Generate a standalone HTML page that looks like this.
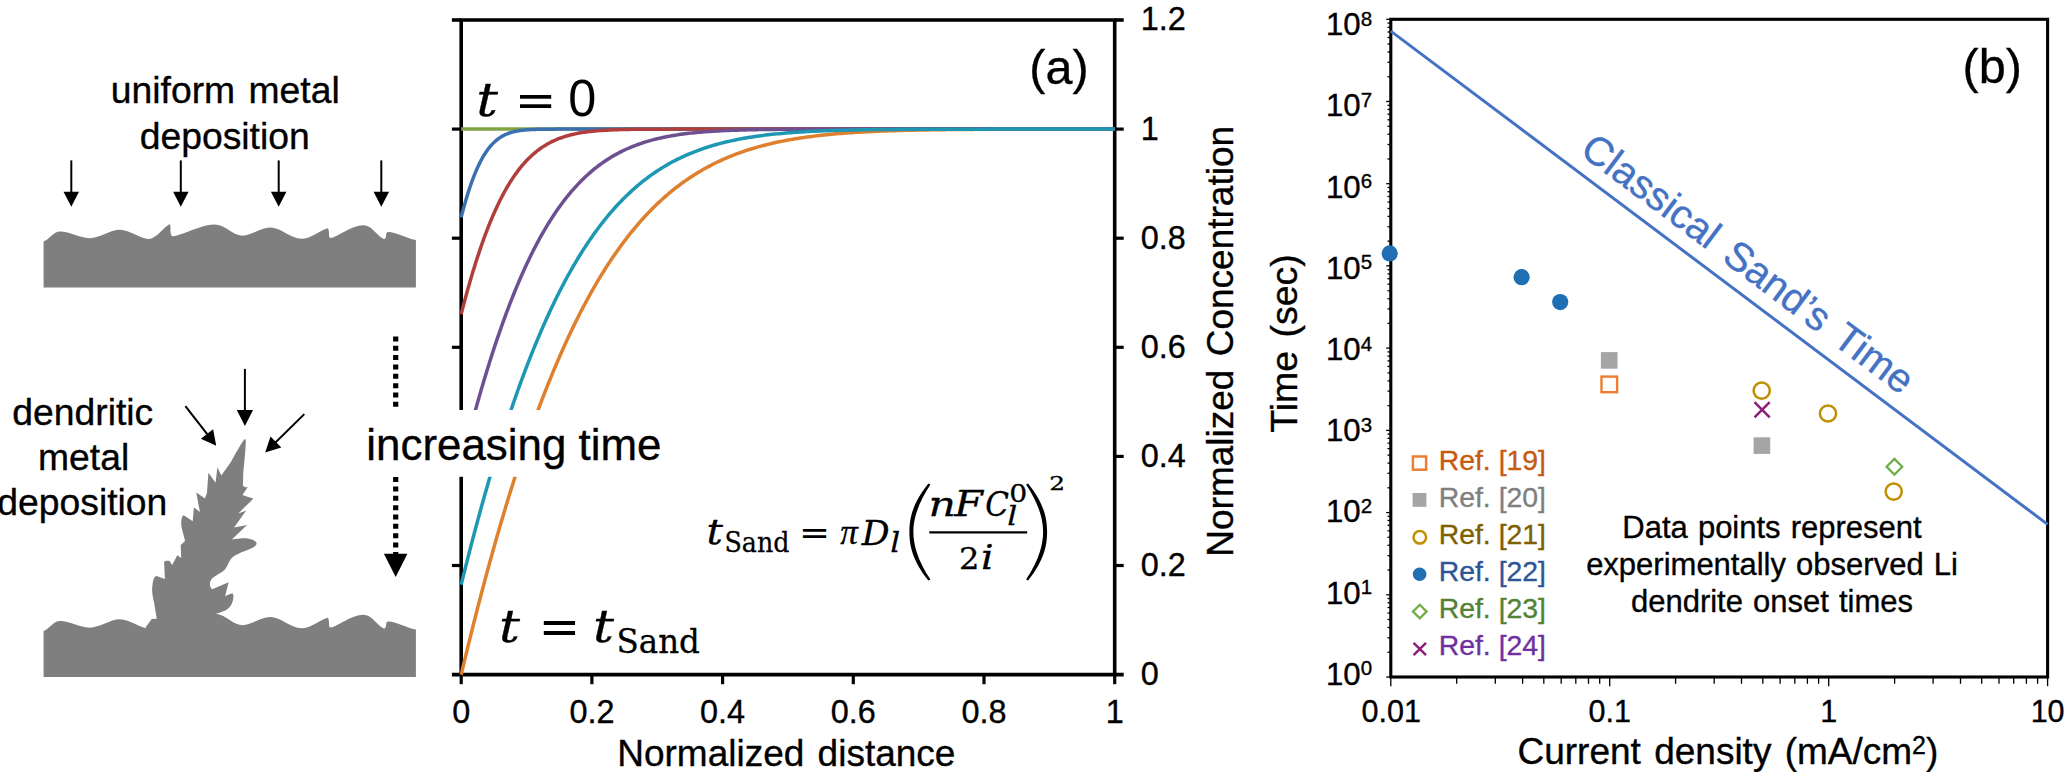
<!DOCTYPE html>
<html lang="en"><head><meta charset="utf-8"><title>Sand's time figure</title>
<style>
html,body{margin:0;padding:0;background:#fff;}
body{width:2070px;height:772px;overflow:hidden;}
svg{display:block;}
text{font-family:'Liberation Sans', Arial, Helvetica, sans-serif;color:#000;fill:currentColor;stroke:currentColor;stroke-width:.35px;}
.tk{font-size:32.4px;}
.tkb{font-size:30.5px;}
.lbl{font-size:37px;word-spacing:3px;}
.sch{font-size:37.3px;text-anchor:middle;word-spacing:3px;}
.leg{font-size:28.4px;}
.note{font-size:31px;text-anchor:middle;word-spacing:1.5px;}
.mi{font-family:'Liberation Serif', 'DejaVu Serif', serif;font-style:italic;}
.mr{font-family:'DejaVu Serif', 'Liberation Serif', serif;}
</style></head><body>
<svg width="2070" height="772" viewBox="0 0 2070 772">
<rect x="0" y="0" width="2070" height="772" fill="#ffffff"/>
<g fill="#7f7f7f" stroke="none">
<path d="M43.6 287.5 L43.6 241.5 C49 240 53 231.6 60.3 231.6 C69 231.6 80 238.2 89.5 238.2 C100 238.2 110 229.8 119.8 229.8 C130 229.8 140 238.9 148.9 238.9 C156 238.9 163 228 169.3 224.3 C171.5 223.5 169.5 233 171.7 235.9 C176 238.5 200 224.6 214.2 224.6 C226 224.6 232 235.7 242.2 235.7 C252 235.7 260 227.5 270.1 227.5 C281 227.5 291 238.8 301.6 238.8 C310 238.8 319 231 326.7 228.4 C330 227.6 328.4 236 329.6 237.6 C333 240.5 350 225.2 363.4 225.2 C372 225.2 378 237 383.8 238.9 C387 239.5 385.4 232.8 387.2 232.2 C392 230.5 405 237.5 415.9 240.1 L415.9 287.5 Z"/>
<path d="M43.6 287.5 L43.6 241.5 C49 240 53 231.6 60.3 231.6 C69 231.6 80 238.2 89.5 238.2 C100 238.2 110 229.8 119.8 229.8 C130 229.8 140 238.9 148.9 238.9 C156 238.9 163 228 169.3 224.3 C171.5 223.5 169.5 233 171.7 235.9 C176 238.5 200 224.6 214.2 224.6 C226 224.6 232 235.7 242.2 235.7 C252 235.7 260 227.5 270.1 227.5 C281 227.5 291 238.8 301.6 238.8 C310 238.8 319 231 326.7 228.4 C330 227.6 328.4 236 329.6 237.6 C333 240.5 350 225.2 363.4 225.2 C372 225.2 378 237 383.8 238.9 C387 239.5 385.4 232.8 387.2 232.2 C392 230.5 405 237.5 415.9 240.1 L415.9 287.5 Z" transform="translate(0,389.5)"/>
<path d="M145.9 627 L151.7 618.9 L156.8 618.7 C155.6 612 154.8 607.1 154.2 603 C152.4 596 151.6 590 152.4 586 C153 580 154 576.5 156.6 576 L164.9 579 L164.1 562 C164.5 560.6 168.5 560.4 169.5 561 L172.2 565.1 L177.3 555.3 L181.2 558.1 L180.7 545 L185.1 541 C183.5 534 181 528 181.2 523 C181.3 519 182.3 515.5 183.7 515.2 L192.7 521.2 L193.9 507.4 L199.9 512 L196.3 492.4 L204.9 498.4 L207 492.7 L208.4 472.8 L215.6 482.7 L217.4 467.3 L221.3 475.6 L231.2 461.4 C236 453 241 444 244.2 439.6 C245.2 438.6 245.9 439.6 245.8 441 C245.6 451 244 465 243.3 472.8 L242.9 485.6 C244.5 487.5 246 487.6 247.8 487 L242.4 494.9 C246 496.5 250.5 497.2 253.3 498.5 C249.5 503 243 508.5 238.4 513.4 L246.2 510.5 L234.1 527.6 L247.1 525 L231.8 539.6 C238 538.8 244 537.8 248.8 538.7 C253 539.5 256.6 541.5 256.6 543.3 C256.6 545.8 253 548 248.8 549.5 C242 552 235.5 554.5 231.7 558.1 C228.8 561.5 227.5 566.5 224.7 569.8 C221.5 573 216.5 575 213.1 577.5 C210.5 579.5 209.6 583 210 585.3 C210.4 587.5 211.5 588.8 212.3 589.2 L228.6 582.2 L225.1 596.2 C228 595 231 593.2 232.6 593.6 C234 594.5 233.6 600 231.7 604 C230 607.5 227 609.8 224 611 C221 612.3 218 613.3 215.4 614.1 C222 614.5 227 618.5 232 622 L232 640 L145.9 640 Z"/>
</g>
<line x1="71.3" y1="160.4" x2="71.3" y2="192.7" stroke="#000" stroke-width="2.0"/><polygon points="71.3,206.7 63.5,191.7 79.0,191.7" fill="#000"/>
<line x1="180.8" y1="160.4" x2="180.8" y2="192.7" stroke="#000" stroke-width="2.0"/><polygon points="180.8,206.7 173.1,191.7 188.6,191.7" fill="#000"/>
<line x1="278.7" y1="160.4" x2="278.7" y2="192.7" stroke="#000" stroke-width="2.0"/><polygon points="278.7,206.7 270.9,191.7 286.4,191.7" fill="#000"/>
<line x1="381.3" y1="160.4" x2="381.3" y2="192.7" stroke="#000" stroke-width="2.0"/><polygon points="381.3,206.7 373.6,191.7 389.1,191.7" fill="#000"/>
<line x1="244.9" y1="368.9" x2="244.9" y2="411.0" stroke="#000" stroke-width="2.0"/><polygon points="244.9,426.0 236.8,410.0 253.1,410.0" fill="#000"/>
<line x1="185.4" y1="406.2" x2="207.6" y2="434.7" stroke="#000" stroke-width="2.0"/><polygon points="216.2,445.8 200.9,438.7 213.1,429.2" fill="#000"/>
<line x1="304.3" y1="414.1" x2="275.2" y2="442.8" stroke="#000" stroke-width="2.0"/><polygon points="265.2,452.6 270.5,436.6 281.3,447.6" fill="#000"/>
<text class="sch" x="225.3" y="102.6">uniform metal</text>
<text class="sch" x="224.7" y="148.6">deposition</text>
<text class="sch" x="82.8" y="424.8">dendritic</text>
<text class="sch" x="83.6" y="470">metal</text>
<text class="sch" x="82.3" y="515.2">deposition</text>
<g stroke="#000" stroke-width="3.6" fill="none">
<path d="M461.2 674.6 L461.2 20.0 L1114.7 20.0 L1114.7 674.6"/>
<line x1="451.9" y1="674.6" x2="1123.7" y2="674.6"/>
<line x1="451.9" y1="20.0" x2="461.2" y2="20.0"/>
<line x1="1114.7" y1="20.0" x2="1123.7" y2="20.0"/>
</g>
<g stroke="#000" stroke-width="3.2">
<line x1="451.9" y1="565.5" x2="461.2" y2="565.5"/>
<line x1="1114.7" y1="565.5" x2="1123.7" y2="565.5"/>
<line x1="451.9" y1="456.4" x2="461.2" y2="456.4"/>
<line x1="1114.7" y1="456.4" x2="1123.7" y2="456.4"/>
<line x1="451.9" y1="347.3" x2="461.2" y2="347.3"/>
<line x1="1114.7" y1="347.3" x2="1123.7" y2="347.3"/>
<line x1="451.9" y1="238.2" x2="461.2" y2="238.2"/>
<line x1="1114.7" y1="238.2" x2="1123.7" y2="238.2"/>
<line x1="451.9" y1="129.1" x2="461.2" y2="129.1"/>
<line x1="1114.7" y1="129.1" x2="1123.7" y2="129.1"/>
<line x1="461.2" y1="674.6" x2="461.2" y2="684.2"/>
<line x1="591.9" y1="674.6" x2="591.9" y2="684.2"/>
<line x1="722.6" y1="674.6" x2="722.6" y2="684.2"/>
<line x1="853.3" y1="674.6" x2="853.3" y2="684.2"/>
<line x1="984.0" y1="674.6" x2="984.0" y2="684.2"/>
<line x1="1114.7" y1="674.6" x2="1114.7" y2="684.2"/>
</g>
<g fill="none" stroke-width="3.5" stroke-linecap="butt" stroke-linejoin="round">
<path d="M461.20 129.10 L461.20 129.10 L461.22 129.10 L461.24 129.10 L461.27 129.10 L461.30 129.10 L461.35 129.10 L461.40 129.10 L461.46 129.10 L461.53 129.10 L461.61 129.10 L461.69 129.10 L461.79 129.10 L461.89 129.10 L462.00 129.10 L462.12 129.10 L462.25 129.10 L462.38 129.10 L462.52 129.10 L462.67 129.10 L462.83 129.10 L463.00 129.10 L463.18 129.10 L463.36 129.10 L463.55 129.10 L463.75 129.10 L463.96 129.10 L464.18 129.10 L464.40 129.10 L464.63 129.10 L464.88 129.10 L465.13 129.10 L465.38 129.10 L465.65 129.10 L465.92 129.10 L466.20 129.10 L466.49 129.10 L466.79 129.10 L467.10 129.10 L467.41 129.10 L467.74 129.10 L468.07 129.10 L468.40 129.10 L468.75 129.10 L469.11 129.10 L469.47 129.10 L469.84 129.10 L470.22 129.10 L470.61 129.10 L471.01 129.10 L471.41 129.10 L471.82 129.10 L472.24 129.10 L472.67 129.10 L473.11 129.10 L473.56 129.10 L474.01 129.10 L474.47 129.10 L474.94 129.10 L475.42 129.10 L475.90 129.10 L476.40 129.10 L476.90 129.10 L477.41 129.10 L477.93 129.10 L478.46 129.10 L478.99 129.10 L479.53 129.10 L480.09 129.10 L480.65 129.10 L481.21 129.10 L481.79 129.10 L482.37 129.10 L482.97 129.10 L483.57 129.10 L484.17 129.10 L484.79 129.10 L485.42 129.10 L486.05 129.10 L486.69 129.10 L487.34 129.10 L488.00 129.10 L488.66 129.10 L489.34 129.10 L490.02 129.10 L490.71 129.10 L491.41 129.10 L492.11 129.10 L492.83 129.10 L493.55 129.10 L494.28 129.10 L495.02 129.10 L495.77 129.10 L496.53 129.10 L497.29 129.10 L498.06 129.10 L498.84 129.10 L499.63 129.10 L500.43 129.10 L501.23 129.10 L502.04 129.10 L502.86 129.10 L503.69 129.10 L504.53 129.10 L505.38 129.10 L506.23 129.10 L507.09 129.10 L507.96 129.10 L508.84 129.10 L509.73 129.10 L510.62 129.10 L511.52 129.10 L512.43 129.10 L513.35 129.10 L514.28 129.10 L515.22 129.10 L516.16 129.10 L517.11 129.10 L518.07 129.10 L519.04 129.10 L520.01 129.10 L521.00 129.10 L521.99 129.10 L522.99 129.10 L524.00 129.10 L525.02 129.10 L526.04 129.10 L527.08 129.10 L528.12 129.10 L529.17 129.10 L530.23 129.10 L531.29 129.10 L532.37 129.10 L533.45 129.10 L534.54 129.10 L535.64 129.10 L536.74 129.10 L537.86 129.10 L538.98 129.10 L540.11 129.10 L541.25 129.10 L542.40 129.10 L543.56 129.10 L544.72 129.10 L545.89 129.10 L547.07 129.10 L548.26 129.10 L549.46 129.10 L550.66 129.10 L551.88 129.10 L553.10 129.10 L554.33 129.10 L555.57 129.10 L556.81 129.10 L558.07 129.10 L559.33 129.10 L560.60 129.10 L561.88 129.10 L563.16 129.10 L564.46 129.10 L565.76 129.10 L567.07 129.10 L568.39 129.10 L569.72 129.10 L571.05 129.10 L572.40 129.10 L573.75 129.10 L575.11 129.10 L576.48 129.10 L577.85 129.10 L579.24 129.10 L580.63 129.10 L582.03 129.10 L583.44 129.10 L584.86 129.10 L586.28 129.10 L587.72 129.10 L589.16 129.10 L590.61 129.10 L592.07 129.10 L593.53 129.10 L595.01 129.10 L596.49 129.10 L597.98 129.10 L599.48 129.10 L600.99 129.10 L602.50 129.10 L604.03 129.10 L605.56 129.10 L607.10 129.10 L608.65 129.10 L610.20 129.10 L611.77 129.10 L613.34 129.10 L614.92 129.10 L616.51 129.10 L618.11 129.10 L619.71 129.10 L621.32 129.10 L622.95 129.10 L624.58 129.10 L626.21 129.10 L627.86 129.10 L629.51 129.10 L631.18 129.10 L632.85 129.10 L634.52 129.10 L636.21 129.10 L637.91 129.10 L639.61 129.10 L641.32 129.10 L643.04 129.10 L644.77 129.10 L646.50 129.10 L648.25 129.10 L650.00 129.10 L651.76 129.10 L653.53 129.10 L655.31 129.10 L657.09 129.10 L658.88 129.10 L660.68 129.10 L662.49 129.10 L664.31 129.10 L666.14 129.10 L667.97 129.10 L669.81 129.10 L671.66 129.10 L673.52 129.10 L675.39 129.10 L677.26 129.10 L679.15 129.10 L681.04 129.10 L682.94 129.10 L684.84 129.10 L686.76 129.10 L688.68 129.10 L690.62 129.10 L692.56 129.10 L694.50 129.10 L696.46 129.10 L698.42 129.10 L700.40 129.10 L702.38 129.10 L704.37 129.10 L706.36 129.10 L708.37 129.10 L710.38 129.10 L712.41 129.10 L714.44 129.10 L716.47 129.10 L718.52 129.10 L720.57 129.10 L722.64 129.10 L724.71 129.10 L726.79 129.10 L728.87 129.10 L730.97 129.10 L733.07 129.10 L735.18 129.10 L737.30 129.10 L739.43 129.10 L741.57 129.10 L743.71 129.10 L745.86 129.10 L748.03 129.10 L750.19 129.10 L752.37 129.10 L754.56 129.10 L756.75 129.10 L758.95 129.10 L761.16 129.10 L763.38 129.10 L765.60 129.10 L767.84 129.10 L770.08 129.10 L772.33 129.10 L774.59 129.10 L776.86 129.10 L779.13 129.10 L781.41 129.10 L783.71 129.10 L786.01 129.10 L788.31 129.10 L790.63 129.10 L792.95 129.10 L795.29 129.10 L797.63 129.10 L799.97 129.10 L802.33 129.10 L804.70 129.10 L807.07 129.10 L809.45 129.10 L811.84 129.10 L814.24 129.10 L816.64 129.10 L819.06 129.10 L821.48 129.10 L823.91 129.10 L826.35 129.10 L828.79 129.10 L831.25 129.10 L833.71 129.10 L836.18 129.10 L838.66 129.10 L841.15 129.10 L843.64 129.10 L846.15 129.10 L848.66 129.10 L851.18 129.10 L853.71 129.10 L856.24 129.10 L858.79 129.10 L861.34 129.10 L863.90 129.10 L866.47 129.10 L869.05 129.10 L871.63 129.10 L874.23 129.10 L876.83 129.10 L879.44 129.10 L882.06 129.10 L884.68 129.10 L887.32 129.10 L889.96 129.10 L892.61 129.10 L895.27 129.10 L897.94 129.10 L900.61 129.10 L903.30 129.10 L905.99 129.10 L908.69 129.10 L911.40 129.10 L914.11 129.10 L916.84 129.10 L919.57 129.10 L922.31 129.10 L925.06 129.10 L927.82 129.10 L930.58 129.10 L933.35 129.10 L936.14 129.10 L938.92 129.10 L941.72 129.10 L944.53 129.10 L947.34 129.10 L950.17 129.10 L953.00 129.10 L955.83 129.10 L958.68 129.10 L961.54 129.10 L964.40 129.10 L967.27 129.10 L970.15 129.10 L973.04 129.10 L975.93 129.10 L978.84 129.10 L981.75 129.10 L984.67 129.10 L987.60 129.10 L990.54 129.10 L993.48 129.10 L996.43 129.10 L999.39 129.10 L1002.36 129.10 L1005.34 129.10 L1008.33 129.10 L1011.32 129.10 L1014.32 129.10 L1017.33 129.10 L1020.35 129.10 L1023.38 129.10 L1026.41 129.10 L1029.46 129.10 L1032.51 129.10 L1035.57 129.10 L1038.63 129.10 L1041.71 129.10 L1044.79 129.10 L1047.88 129.10 L1050.98 129.10 L1054.09 129.10 L1057.21 129.10 L1060.33 129.10 L1063.47 129.10 L1066.61 129.10 L1069.76 129.10 L1072.91 129.10 L1076.08 129.10 L1079.25 129.10 L1082.43 129.10 L1085.62 129.10 L1088.82 129.10 L1092.03 129.10 L1095.24 129.10 L1098.46 129.10 L1101.70 129.10 L1104.93 129.10 L1108.18 129.10 L1111.44 129.10 L1114.70 129.10" stroke="#82a344"/>
<path d="M461.20 674.60 L461.20 674.58 L461.22 674.53 L461.24 674.44 L461.27 674.32 L461.30 674.17 L461.35 673.98 L461.40 673.75 L461.46 673.50 L461.53 673.20 L461.61 672.88 L461.69 672.51 L461.79 672.12 L461.89 671.69 L462.00 671.22 L462.12 670.72 L462.25 670.19 L462.38 669.62 L462.52 669.02 L462.67 668.39 L462.83 667.72 L463.00 667.02 L463.18 666.28 L463.36 665.52 L463.55 664.71 L463.75 663.88 L463.96 663.01 L464.18 662.11 L464.40 661.17 L464.63 660.20 L464.88 659.20 L465.13 658.17 L465.38 657.10 L465.65 656.00 L465.92 654.87 L466.20 653.71 L466.49 652.52 L466.79 651.29 L467.10 650.03 L467.41 648.74 L467.74 647.42 L468.07 646.07 L468.40 644.68 L468.75 643.27 L469.11 641.83 L469.47 640.35 L469.84 638.84 L470.22 637.31 L470.61 635.74 L471.01 634.15 L471.41 632.52 L471.82 630.87 L472.24 629.19 L472.67 627.47 L473.11 625.73 L473.56 623.96 L474.01 622.16 L474.47 620.34 L474.94 618.49 L475.42 616.60 L475.90 614.70 L476.40 612.76 L476.90 610.80 L477.41 608.81 L477.93 606.80 L478.46 604.75 L478.99 602.69 L479.53 600.60 L480.09 598.48 L480.65 596.34 L481.21 594.17 L481.79 591.98 L482.37 589.76 L482.97 587.52 L483.57 585.26 L484.17 582.98 L484.79 580.67 L485.42 578.34 L486.05 575.98 L486.69 573.61 L487.34 571.21 L488.00 568.79 L488.66 566.35 L489.34 563.89 L490.02 561.41 L490.71 558.91 L491.41 556.39 L492.11 553.85 L492.83 551.29 L493.55 548.72 L494.28 546.12 L495.02 543.51 L495.77 540.88 L496.53 538.23 L497.29 535.57 L498.06 532.89 L498.84 530.19 L499.63 527.48 L500.43 524.75 L501.23 522.00 L502.04 519.25 L502.86 516.48 L503.69 513.69 L504.53 510.89 L505.38 508.08 L506.23 505.25 L507.09 502.42 L507.96 499.57 L508.84 496.71 L509.73 493.84 L510.62 490.96 L511.52 488.07 L512.43 485.16 L513.35 482.25 L514.28 479.33 L515.22 476.41 L516.16 473.47 L517.11 470.53 L518.07 467.58 L519.04 464.62 L520.01 461.65 L521.00 458.68 L521.99 455.71 L522.99 452.73 L524.00 449.74 L525.02 446.75 L526.04 443.76 L527.08 440.76 L528.12 437.76 L529.17 434.76 L530.23 431.75 L531.29 428.75 L532.37 425.74 L533.45 422.73 L534.54 419.72 L535.64 416.71 L536.74 413.70 L537.86 410.70 L538.98 407.69 L540.11 404.69 L541.25 401.69 L542.40 398.69 L543.56 395.69 L544.72 392.70 L545.89 389.71 L547.07 386.73 L548.26 383.75 L549.46 380.78 L550.66 377.81 L551.88 374.85 L553.10 371.89 L554.33 368.94 L555.57 366.00 L556.81 363.07 L558.07 360.14 L559.33 357.23 L560.60 354.32 L561.88 351.42 L563.16 348.53 L564.46 345.66 L565.76 342.79 L567.07 339.93 L568.39 337.09 L569.72 334.25 L571.05 331.43 L572.40 328.63 L573.75 325.83 L575.11 323.05 L576.48 320.28 L577.85 317.53 L579.24 314.79 L580.63 312.06 L582.03 309.35 L583.44 306.66 L584.86 303.98 L586.28 301.31 L587.72 298.67 L589.16 296.04 L590.61 293.43 L592.07 290.83 L593.53 288.25 L595.01 285.69 L596.49 283.15 L597.98 280.63 L599.48 278.13 L600.99 275.64 L602.50 273.18 L604.03 270.73 L605.56 268.31 L607.10 265.90 L608.65 263.52 L610.20 261.15 L611.77 258.81 L613.34 256.49 L614.92 254.18 L616.51 251.90 L618.11 249.65 L619.71 247.41 L621.32 245.20 L622.95 243.01 L624.58 240.84 L626.21 238.69 L627.86 236.57 L629.51 234.47 L631.18 232.39 L632.85 230.33 L634.52 228.30 L636.21 226.30 L637.91 224.31 L639.61 222.35 L641.32 220.42 L643.04 218.50 L644.77 216.61 L646.50 214.75 L648.25 212.91 L650.00 211.09 L651.76 209.30 L653.53 207.53 L655.31 205.79 L657.09 204.07 L658.88 202.37 L660.68 200.70 L662.49 199.05 L664.31 197.43 L666.14 195.83 L667.97 194.26 L669.81 192.71 L671.66 191.18 L673.52 189.68 L675.39 188.20 L677.26 186.75 L679.15 185.32 L681.04 183.91 L682.94 182.53 L684.84 181.17 L686.76 179.83 L688.68 178.52 L690.62 177.23 L692.56 175.97 L694.50 174.72 L696.46 173.51 L698.42 172.31 L700.40 171.13 L702.38 169.98 L704.37 168.85 L706.36 167.75 L708.37 166.66 L710.38 165.60 L712.41 164.56 L714.44 163.54 L716.47 162.54 L718.52 161.56 L720.57 160.60 L722.64 159.67 L724.71 158.75 L726.79 157.86 L728.87 156.98 L730.97 156.12 L733.07 155.29 L735.18 154.47 L737.30 153.67 L739.43 152.89 L741.57 152.13 L743.71 151.39 L745.86 150.67 L748.03 149.96 L750.19 149.27 L752.37 148.60 L754.56 147.95 L756.75 147.31 L758.95 146.69 L761.16 146.09 L763.38 145.50 L765.60 144.93 L767.84 144.37 L770.08 143.83 L772.33 143.31 L774.59 142.80 L776.86 142.30 L779.13 141.82 L781.41 141.35 L783.71 140.90 L786.01 140.45 L788.31 140.03 L790.63 139.61 L792.95 139.21 L795.29 138.82 L797.63 138.44 L799.97 138.08 L802.33 137.72 L804.70 137.38 L807.07 137.05 L809.45 136.73 L811.84 136.42 L814.24 136.12 L816.64 135.83 L819.06 135.55 L821.48 135.28 L823.91 135.01 L826.35 134.76 L828.79 134.52 L831.25 134.29 L833.71 134.06 L836.18 133.84 L838.66 133.63 L841.15 133.43 L843.64 133.24 L846.15 133.05 L848.66 132.87 L851.18 132.70 L853.71 132.53 L856.24 132.37 L858.79 132.22 L861.34 132.07 L863.90 131.93 L866.47 131.79 L869.05 131.66 L871.63 131.54 L874.23 131.42 L876.83 131.30 L879.44 131.19 L882.06 131.09 L884.68 130.99 L887.32 130.89 L889.96 130.80 L892.61 130.71 L895.27 130.63 L897.94 130.55 L900.61 130.47 L903.30 130.40 L905.99 130.33 L908.69 130.26 L911.40 130.20 L914.11 130.14 L916.84 130.08 L919.57 130.03 L922.31 129.98 L925.06 129.93 L927.82 129.88 L930.58 129.84 L933.35 129.79 L936.14 129.75 L938.92 129.71 L941.72 129.68 L944.53 129.64 L947.34 129.61 L950.17 129.58 L953.00 129.55 L955.83 129.52 L958.68 129.50 L961.54 129.47 L964.40 129.45 L967.27 129.43 L970.15 129.41 L973.04 129.39 L975.93 129.37 L978.84 129.35 L981.75 129.34 L984.67 129.32 L987.60 129.31 L990.54 129.29 L993.48 129.28 L996.43 129.27 L999.39 129.26 L1002.36 129.25 L1005.34 129.24 L1008.33 129.23 L1011.32 129.22 L1014.32 129.21 L1017.33 129.20 L1020.35 129.19 L1023.38 129.19 L1026.41 129.18 L1029.46 129.18 L1032.51 129.17 L1035.57 129.17 L1038.63 129.16 L1041.71 129.16 L1044.79 129.15 L1047.88 129.15 L1050.98 129.14 L1054.09 129.14 L1057.21 129.14 L1060.33 129.13 L1063.47 129.13 L1066.61 129.13 L1069.76 129.13 L1072.91 129.13 L1076.08 129.12 L1079.25 129.12 L1082.43 129.12 L1085.62 129.12 L1088.82 129.12 L1092.03 129.12 L1095.24 129.11 L1098.46 129.11 L1101.70 129.11 L1104.93 129.11 L1108.18 129.11 L1111.44 129.11 L1114.70 129.11" stroke="#de802e"/>
<path d="M461.20 217.20 L461.20 217.18 L461.22 217.13 L461.24 217.05 L461.27 216.94 L461.30 216.80 L461.35 216.62 L461.40 216.42 L461.46 216.18 L461.53 215.91 L461.61 215.61 L461.69 215.28 L461.79 214.91 L461.89 214.52 L462.00 214.10 L462.12 213.65 L462.25 213.16 L462.38 212.65 L462.52 212.11 L462.67 211.54 L462.83 210.95 L463.00 210.32 L463.18 209.67 L463.36 208.99 L463.55 208.29 L463.75 207.56 L463.96 206.81 L464.18 206.03 L464.40 205.22 L464.63 204.40 L464.88 203.55 L465.13 202.68 L465.38 201.78 L465.65 200.87 L465.92 199.94 L466.20 198.98 L466.49 198.01 L466.79 197.02 L467.10 196.02 L467.41 194.99 L467.74 193.96 L468.07 192.90 L468.40 191.84 L468.75 190.76 L469.11 189.67 L469.47 188.57 L469.84 187.45 L470.22 186.33 L470.61 185.20 L471.01 184.06 L471.41 182.92 L471.82 181.77 L472.24 180.61 L472.67 179.46 L473.11 178.29 L473.56 177.13 L474.01 175.97 L474.47 174.80 L474.94 173.64 L475.42 172.48 L475.90 171.32 L476.40 170.17 L476.90 169.02 L477.41 167.88 L477.93 166.74 L478.46 165.61 L478.99 164.50 L479.53 163.39 L480.09 162.29 L480.65 161.20 L481.21 160.12 L481.79 159.06 L482.37 158.01 L482.97 156.97 L483.57 155.95 L484.17 154.95 L484.79 153.96 L485.42 152.99 L486.05 152.04 L486.69 151.10 L487.34 150.19 L488.00 149.29 L488.66 148.42 L489.34 147.56 L490.02 146.73 L490.71 145.91 L491.41 145.12 L492.11 144.35 L492.83 143.60 L493.55 142.88 L494.28 142.17 L495.02 141.49 L495.77 140.83 L496.53 140.20 L497.29 139.58 L498.06 138.99 L498.84 138.42 L499.63 137.87 L500.43 137.35 L501.23 136.84 L502.04 136.36 L502.86 135.90 L503.69 135.46 L504.53 135.04 L505.38 134.64 L506.23 134.26 L507.09 133.90 L507.96 133.56 L508.84 133.24 L509.73 132.93 L510.62 132.64 L511.52 132.37 L512.43 132.12 L513.35 131.88 L514.28 131.65 L515.22 131.44 L516.16 131.24 L517.11 131.06 L518.07 130.89 L519.04 130.73 L520.01 130.58 L521.00 130.45 L521.99 130.32 L522.99 130.20 L524.00 130.10 L525.02 130.00 L526.04 129.91 L527.08 129.82 L528.12 129.75 L529.17 129.68 L530.23 129.62 L531.29 129.56 L532.37 129.51 L533.45 129.46 L534.54 129.42 L535.64 129.38 L536.74 129.35 L537.86 129.32 L538.98 129.29 L540.11 129.27 L541.25 129.25 L542.40 129.23 L543.56 129.21 L544.72 129.20 L545.89 129.18 L547.07 129.17 L548.26 129.16 L549.46 129.15 L550.66 129.15 L551.88 129.14 L553.10 129.13 L554.33 129.13 L555.57 129.12 L556.81 129.12 L558.07 129.12 L559.33 129.11 L560.60 129.11 L561.88 129.11 L563.16 129.11 L564.46 129.11 L565.76 129.11 L567.07 129.10 L568.39 129.10 L569.72 129.10 L571.05 129.10 L572.40 129.10 L573.75 129.10 L575.11 129.10 L576.48 129.10 L577.85 129.10 L579.24 129.10 L580.63 129.10 L582.03 129.10 L583.44 129.10 L584.86 129.10 L586.28 129.10 L587.72 129.10 L589.16 129.10 L590.61 129.10 L592.07 129.10 L593.53 129.10 L595.01 129.10 L596.49 129.10 L597.98 129.10 L599.48 129.10 L600.99 129.10 L602.50 129.10 L604.03 129.10 L605.56 129.10 L607.10 129.10 L608.65 129.10 L610.20 129.10 L611.77 129.10 L613.34 129.10 L614.92 129.10 L616.51 129.10 L618.11 129.10 L619.71 129.10 L621.32 129.10 L622.95 129.10 L624.58 129.10 L626.21 129.10 L627.86 129.10 L629.51 129.10 L631.18 129.10 L632.85 129.10 L634.52 129.10 L636.21 129.10 L637.91 129.10 L639.61 129.10 L641.32 129.10 L643.04 129.10 L644.77 129.10 L646.50 129.10 L648.25 129.10 L650.00 129.10 L651.76 129.10 L653.53 129.10 L655.31 129.10 L657.09 129.10 L658.88 129.10 L660.68 129.10 L662.49 129.10 L664.31 129.10 L666.14 129.10 L667.97 129.10 L669.81 129.10 L671.66 129.10 L673.52 129.10 L675.39 129.10 L677.26 129.10 L679.15 129.10 L681.04 129.10 L682.94 129.10 L684.84 129.10 L686.76 129.10 L688.68 129.10 L690.62 129.10 L692.56 129.10 L694.50 129.10 L696.46 129.10 L698.42 129.10 L700.40 129.10 L702.38 129.10 L704.37 129.10 L706.36 129.10 L708.37 129.10 L710.38 129.10 L712.41 129.10 L714.44 129.10 L716.47 129.10 L718.52 129.10 L720.57 129.10 L722.64 129.10 L724.71 129.10 L726.79 129.10 L728.87 129.10 L730.97 129.10 L733.07 129.10 L735.18 129.10 L737.30 129.10 L739.43 129.10 L741.57 129.10 L743.71 129.10 L745.86 129.10 L748.03 129.10 L750.19 129.10 L752.37 129.10 L754.56 129.10 L756.75 129.10 L758.95 129.10 L761.16 129.10 L763.38 129.10 L765.60 129.10 L767.84 129.10 L770.08 129.10 L772.33 129.10 L774.59 129.10 L776.86 129.10 L779.13 129.10 L781.41 129.10 L783.71 129.10 L786.01 129.10 L788.31 129.10 L790.63 129.10 L792.95 129.10 L795.29 129.10 L797.63 129.10 L799.97 129.10 L802.33 129.10 L804.70 129.10 L807.07 129.10 L809.45 129.10 L811.84 129.10 L814.24 129.10 L816.64 129.10 L819.06 129.10 L821.48 129.10 L823.91 129.10 L826.35 129.10 L828.79 129.10 L831.25 129.10 L833.71 129.10 L836.18 129.10 L838.66 129.10 L841.15 129.10 L843.64 129.10 L846.15 129.10 L848.66 129.10 L851.18 129.10 L853.71 129.10 L856.24 129.10 L858.79 129.10 L861.34 129.10 L863.90 129.10 L866.47 129.10 L869.05 129.10 L871.63 129.10 L874.23 129.10 L876.83 129.10 L879.44 129.10 L882.06 129.10 L884.68 129.10 L887.32 129.10 L889.96 129.10 L892.61 129.10 L895.27 129.10 L897.94 129.10 L900.61 129.10 L903.30 129.10 L905.99 129.10 L908.69 129.10 L911.40 129.10 L914.11 129.10 L916.84 129.10 L919.57 129.10 L922.31 129.10 L925.06 129.10 L927.82 129.10 L930.58 129.10 L933.35 129.10 L936.14 129.10 L938.92 129.10 L941.72 129.10 L944.53 129.10 L947.34 129.10 L950.17 129.10 L953.00 129.10 L955.83 129.10 L958.68 129.10 L961.54 129.10 L964.40 129.10 L967.27 129.10 L970.15 129.10 L973.04 129.10 L975.93 129.10 L978.84 129.10 L981.75 129.10 L984.67 129.10 L987.60 129.10 L990.54 129.10 L993.48 129.10 L996.43 129.10 L999.39 129.10 L1002.36 129.10 L1005.34 129.10 L1008.33 129.10 L1011.32 129.10 L1014.32 129.10 L1017.33 129.10 L1020.35 129.10 L1023.38 129.10 L1026.41 129.10 L1029.46 129.10 L1032.51 129.10 L1035.57 129.10 L1038.63 129.10 L1041.71 129.10 L1044.79 129.10 L1047.88 129.10 L1050.98 129.10 L1054.09 129.10 L1057.21 129.10 L1060.33 129.10 L1063.47 129.10 L1066.61 129.10 L1069.76 129.10 L1072.91 129.10 L1076.08 129.10 L1079.25 129.10 L1082.43 129.10 L1085.62 129.10 L1088.82 129.10 L1092.03 129.10 L1095.24 129.10 L1098.46 129.10 L1101.70 129.10 L1104.93 129.10 L1108.18 129.10 L1111.44 129.10 L1114.70 129.10" stroke="#3a70b0"/>
<path d="M461.20 314.02 L461.20 314.01 L461.22 313.96 L461.24 313.88 L461.27 313.77 L461.30 313.62 L461.35 313.45 L461.40 313.24 L461.46 313.00 L461.53 312.73 L461.61 312.43 L461.69 312.09 L461.79 311.73 L461.89 311.33 L462.00 310.90 L462.12 310.45 L462.25 309.96 L462.38 309.44 L462.52 308.89 L462.67 308.30 L462.83 307.69 L463.00 307.05 L463.18 306.38 L463.36 305.68 L463.55 304.95 L463.75 304.19 L463.96 303.41 L464.18 302.59 L464.40 301.75 L464.63 300.88 L464.88 299.98 L465.13 299.05 L465.38 298.10 L465.65 297.12 L465.92 296.11 L466.20 295.08 L466.49 294.02 L466.79 292.94 L467.10 291.83 L467.41 290.70 L467.74 289.55 L468.07 288.37 L468.40 287.16 L468.75 285.94 L469.11 284.69 L469.47 283.42 L469.84 282.13 L470.22 280.82 L470.61 279.49 L471.01 278.13 L471.41 276.76 L471.82 275.37 L472.24 273.96 L472.67 272.54 L473.11 271.09 L473.56 269.63 L474.01 268.15 L474.47 266.66 L474.94 265.15 L475.42 263.63 L475.90 262.09 L476.40 260.54 L476.90 258.98 L477.41 257.41 L477.93 255.82 L478.46 254.22 L478.99 252.61 L479.53 250.99 L480.09 249.37 L480.65 247.73 L481.21 246.09 L481.79 244.44 L482.37 242.78 L482.97 241.12 L483.57 239.45 L484.17 237.78 L484.79 236.10 L485.42 234.42 L486.05 232.74 L486.69 231.05 L487.34 229.37 L488.00 227.68 L488.66 225.99 L489.34 224.31 L490.02 222.62 L490.71 220.94 L491.41 219.26 L492.11 217.59 L492.83 215.91 L493.55 214.25 L494.28 212.58 L495.02 210.93 L495.77 209.28 L496.53 207.64 L497.29 206.00 L498.06 204.38 L498.84 202.76 L499.63 201.15 L500.43 199.56 L501.23 197.97 L502.04 196.40 L502.86 194.84 L503.69 193.29 L504.53 191.75 L505.38 190.23 L506.23 188.72 L507.09 187.23 L507.96 185.75 L508.84 184.29 L509.73 182.84 L510.62 181.41 L511.52 180.00 L512.43 178.61 L513.35 177.23 L514.28 175.87 L515.22 174.54 L516.16 173.22 L517.11 171.92 L518.07 170.64 L519.04 169.38 L520.01 168.14 L521.00 166.92 L521.99 165.72 L522.99 164.54 L524.00 163.39 L525.02 162.25 L526.04 161.14 L527.08 160.05 L528.12 158.98 L529.17 157.94 L530.23 156.92 L531.29 155.91 L532.37 154.94 L533.45 153.98 L534.54 153.05 L535.64 152.14 L536.74 151.25 L537.86 150.38 L538.98 149.54 L540.11 148.72 L541.25 147.92 L542.40 147.14 L543.56 146.38 L544.72 145.65 L545.89 144.94 L547.07 144.25 L548.26 143.58 L549.46 142.93 L550.66 142.30 L551.88 141.69 L553.10 141.11 L554.33 140.54 L555.57 139.99 L556.81 139.46 L558.07 138.95 L559.33 138.46 L560.60 137.99 L561.88 137.53 L563.16 137.10 L564.46 136.68 L565.76 136.27 L567.07 135.89 L568.39 135.52 L569.72 135.16 L571.05 134.82 L572.40 134.50 L573.75 134.19 L575.11 133.89 L576.48 133.61 L577.85 133.34 L579.24 133.08 L580.63 132.84 L582.03 132.61 L583.44 132.39 L584.86 132.18 L586.28 131.98 L587.72 131.79 L589.16 131.61 L590.61 131.44 L592.07 131.29 L593.53 131.14 L595.01 130.99 L596.49 130.86 L597.98 130.74 L599.48 130.62 L600.99 130.51 L602.50 130.40 L604.03 130.31 L605.56 130.21 L607.10 130.13 L608.65 130.05 L610.20 129.98 L611.77 129.91 L613.34 129.84 L614.92 129.78 L616.51 129.72 L618.11 129.67 L619.71 129.62 L621.32 129.58 L622.95 129.54 L624.58 129.50 L626.21 129.47 L627.86 129.43 L629.51 129.40 L631.18 129.37 L632.85 129.35 L634.52 129.33 L636.21 129.30 L637.91 129.29 L639.61 129.27 L641.32 129.25 L643.04 129.24 L644.77 129.22 L646.50 129.21 L648.25 129.20 L650.00 129.19 L651.76 129.18 L653.53 129.17 L655.31 129.16 L657.09 129.16 L658.88 129.15 L660.68 129.14 L662.49 129.14 L664.31 129.14 L666.14 129.13 L667.97 129.13 L669.81 129.12 L671.66 129.12 L673.52 129.12 L675.39 129.12 L677.26 129.11 L679.15 129.11 L681.04 129.11 L682.94 129.11 L684.84 129.11 L686.76 129.11 L688.68 129.11 L690.62 129.11 L692.56 129.10 L694.50 129.10 L696.46 129.10 L698.42 129.10 L700.40 129.10 L702.38 129.10 L704.37 129.10 L706.36 129.10 L708.37 129.10 L710.38 129.10 L712.41 129.10 L714.44 129.10 L716.47 129.10 L718.52 129.10 L720.57 129.10 L722.64 129.10 L724.71 129.10 L726.79 129.10 L728.87 129.10 L730.97 129.10 L733.07 129.10 L735.18 129.10 L737.30 129.10 L739.43 129.10 L741.57 129.10 L743.71 129.10 L745.86 129.10 L748.03 129.10 L750.19 129.10 L752.37 129.10 L754.56 129.10 L756.75 129.10 L758.95 129.10 L761.16 129.10 L763.38 129.10 L765.60 129.10 L767.84 129.10 L770.08 129.10 L772.33 129.10 L774.59 129.10 L776.86 129.10 L779.13 129.10 L781.41 129.10 L783.71 129.10 L786.01 129.10 L788.31 129.10 L790.63 129.10 L792.95 129.10 L795.29 129.10 L797.63 129.10 L799.97 129.10 L802.33 129.10 L804.70 129.10 L807.07 129.10 L809.45 129.10 L811.84 129.10 L814.24 129.10 L816.64 129.10 L819.06 129.10 L821.48 129.10 L823.91 129.10 L826.35 129.10 L828.79 129.10 L831.25 129.10 L833.71 129.10 L836.18 129.10 L838.66 129.10 L841.15 129.10 L843.64 129.10 L846.15 129.10 L848.66 129.10 L851.18 129.10 L853.71 129.10 L856.24 129.10 L858.79 129.10 L861.34 129.10 L863.90 129.10 L866.47 129.10 L869.05 129.10 L871.63 129.10 L874.23 129.10 L876.83 129.10 L879.44 129.10 L882.06 129.10 L884.68 129.10 L887.32 129.10 L889.96 129.10 L892.61 129.10 L895.27 129.10 L897.94 129.10 L900.61 129.10 L903.30 129.10 L905.99 129.10 L908.69 129.10 L911.40 129.10 L914.11 129.10 L916.84 129.10 L919.57 129.10 L922.31 129.10 L925.06 129.10 L927.82 129.10 L930.58 129.10 L933.35 129.10 L936.14 129.10 L938.92 129.10 L941.72 129.10 L944.53 129.10 L947.34 129.10 L950.17 129.10 L953.00 129.10 L955.83 129.10 L958.68 129.10 L961.54 129.10 L964.40 129.10 L967.27 129.10 L970.15 129.10 L973.04 129.10 L975.93 129.10 L978.84 129.10 L981.75 129.10 L984.67 129.10 L987.60 129.10 L990.54 129.10 L993.48 129.10 L996.43 129.10 L999.39 129.10 L1002.36 129.10 L1005.34 129.10 L1008.33 129.10 L1011.32 129.10 L1014.32 129.10 L1017.33 129.10 L1020.35 129.10 L1023.38 129.10 L1026.41 129.10 L1029.46 129.10 L1032.51 129.10 L1035.57 129.10 L1038.63 129.10 L1041.71 129.10 L1044.79 129.10 L1047.88 129.10 L1050.98 129.10 L1054.09 129.10 L1057.21 129.10 L1060.33 129.10 L1063.47 129.10 L1066.61 129.10 L1069.76 129.10 L1072.91 129.10 L1076.08 129.10 L1079.25 129.10 L1082.43 129.10 L1085.62 129.10 L1088.82 129.10 L1092.03 129.10 L1095.24 129.10 L1098.46 129.10 L1101.70 129.10 L1104.93 129.10 L1108.18 129.10 L1111.44 129.10 L1114.70 129.10" stroke="#b03e3c"/>
<path d="M461.20 464.58 L461.20 464.57 L461.22 464.52 L461.24 464.43 L461.27 464.32 L461.30 464.17 L461.35 463.99 L461.40 463.77 L461.46 463.53 L461.53 463.25 L461.61 462.93 L461.69 462.59 L461.79 462.21 L461.89 461.80 L462.00 461.36 L462.12 460.88 L462.25 460.37 L462.38 459.83 L462.52 459.26 L462.67 458.65 L462.83 458.02 L463.00 457.35 L463.18 456.65 L463.36 455.92 L463.55 455.15 L463.75 454.36 L463.96 453.54 L464.18 452.68 L464.40 451.79 L464.63 450.87 L464.88 449.93 L465.13 448.95 L465.38 447.94 L465.65 446.90 L465.92 445.83 L466.20 444.74 L466.49 443.61 L466.79 442.46 L467.10 441.27 L467.41 440.06 L467.74 438.82 L468.07 437.55 L468.40 436.25 L468.75 434.93 L469.11 433.57 L469.47 432.20 L469.84 430.79 L470.22 429.36 L470.61 427.90 L471.01 426.42 L471.41 424.91 L471.82 423.37 L472.24 421.81 L472.67 420.23 L473.11 418.62 L473.56 416.98 L474.01 415.33 L474.47 413.65 L474.94 411.94 L475.42 410.22 L475.90 408.47 L476.40 406.70 L476.90 404.91 L477.41 403.09 L477.93 401.26 L478.46 399.41 L478.99 397.53 L479.53 395.64 L480.09 393.73 L480.65 391.79 L481.21 389.84 L481.79 387.87 L482.37 385.89 L482.97 383.89 L483.57 381.87 L484.17 379.83 L484.79 377.78 L485.42 375.71 L486.05 373.63 L486.69 371.53 L487.34 369.42 L488.00 367.29 L488.66 365.16 L489.34 363.00 L490.02 360.84 L490.71 358.67 L491.41 356.48 L492.11 354.28 L492.83 352.08 L493.55 349.86 L494.28 347.63 L495.02 345.40 L495.77 343.15 L496.53 340.90 L497.29 338.64 L498.06 336.38 L498.84 334.11 L499.63 331.83 L500.43 329.55 L501.23 327.26 L502.04 324.97 L502.86 322.67 L503.69 320.37 L504.53 318.07 L505.38 315.77 L506.23 313.46 L507.09 311.15 L507.96 308.85 L508.84 306.54 L509.73 304.23 L510.62 301.92 L511.52 299.62 L512.43 297.32 L513.35 295.01 L514.28 292.72 L515.22 290.42 L516.16 288.13 L517.11 285.85 L518.07 283.57 L519.04 281.29 L520.01 279.02 L521.00 276.76 L521.99 274.50 L522.99 272.26 L524.00 270.02 L525.02 267.78 L526.04 265.56 L527.08 263.35 L528.12 261.15 L529.17 258.95 L530.23 256.77 L531.29 254.60 L532.37 252.44 L533.45 250.29 L534.54 248.16 L535.64 246.04 L536.74 243.93 L537.86 241.84 L538.98 239.76 L540.11 237.70 L541.25 235.65 L542.40 233.62 L543.56 231.60 L544.72 229.60 L545.89 227.61 L547.07 225.65 L548.26 223.70 L549.46 221.76 L550.66 219.85 L551.88 217.96 L553.10 216.08 L554.33 214.22 L555.57 212.38 L556.81 210.57 L558.07 208.77 L559.33 206.99 L560.60 205.23 L561.88 203.49 L563.16 201.78 L564.46 200.08 L565.76 198.41 L567.07 196.76 L568.39 195.13 L569.72 193.52 L571.05 191.93 L572.40 190.37 L573.75 188.83 L575.11 187.31 L576.48 185.81 L577.85 184.34 L579.24 182.89 L580.63 181.46 L582.03 180.06 L583.44 178.68 L584.86 177.32 L586.28 175.98 L587.72 174.67 L589.16 173.38 L590.61 172.12 L592.07 170.87 L593.53 169.65 L595.01 168.46 L596.49 167.29 L597.98 166.14 L599.48 165.01 L600.99 163.90 L602.50 162.82 L604.03 161.76 L605.56 160.73 L607.10 159.72 L608.65 158.72 L610.20 157.75 L611.77 156.81 L613.34 155.88 L614.92 154.98 L616.51 154.10 L618.11 153.24 L619.71 152.40 L621.32 151.58 L622.95 150.78 L624.58 150.00 L626.21 149.25 L627.86 148.51 L629.51 147.79 L631.18 147.10 L632.85 146.42 L634.52 145.76 L636.21 145.12 L637.91 144.49 L639.61 143.89 L641.32 143.30 L643.04 142.74 L644.77 142.19 L646.50 141.65 L648.25 141.13 L650.00 140.63 L651.76 140.15 L653.53 139.68 L655.31 139.23 L657.09 138.79 L658.88 138.36 L660.68 137.95 L662.49 137.56 L664.31 137.18 L666.14 136.81 L667.97 136.46 L669.81 136.12 L671.66 135.79 L673.52 135.47 L675.39 135.17 L677.26 134.88 L679.15 134.60 L681.04 134.33 L682.94 134.07 L684.84 133.82 L686.76 133.58 L688.68 133.35 L690.62 133.13 L692.56 132.92 L694.50 132.72 L696.46 132.53 L698.42 132.35 L700.40 132.17 L702.38 132.01 L704.37 131.85 L706.36 131.69 L708.37 131.55 L710.38 131.41 L712.41 131.28 L714.44 131.15 L716.47 131.03 L718.52 130.92 L720.57 130.81 L722.64 130.71 L724.71 130.61 L726.79 130.52 L728.87 130.43 L730.97 130.35 L733.07 130.27 L735.18 130.20 L737.30 130.13 L739.43 130.06 L741.57 130.00 L743.71 129.94 L745.86 129.89 L748.03 129.83 L750.19 129.79 L752.37 129.74 L754.56 129.70 L756.75 129.65 L758.95 129.62 L761.16 129.58 L763.38 129.55 L765.60 129.51 L767.84 129.48 L770.08 129.46 L772.33 129.43 L774.59 129.41 L776.86 129.38 L779.13 129.36 L781.41 129.34 L783.71 129.32 L786.01 129.31 L788.31 129.29 L790.63 129.28 L792.95 129.26 L795.29 129.25 L797.63 129.24 L799.97 129.23 L802.33 129.22 L804.70 129.21 L807.07 129.20 L809.45 129.19 L811.84 129.18 L814.24 129.17 L816.64 129.17 L819.06 129.16 L821.48 129.16 L823.91 129.15 L826.35 129.15 L828.79 129.14 L831.25 129.14 L833.71 129.14 L836.18 129.13 L838.66 129.13 L841.15 129.13 L843.64 129.12 L846.15 129.12 L848.66 129.12 L851.18 129.12 L853.71 129.12 L856.24 129.11 L858.79 129.11 L861.34 129.11 L863.90 129.11 L866.47 129.11 L869.05 129.11 L871.63 129.11 L874.23 129.11 L876.83 129.11 L879.44 129.11 L882.06 129.10 L884.68 129.10 L887.32 129.10 L889.96 129.10 L892.61 129.10 L895.27 129.10 L897.94 129.10 L900.61 129.10 L903.30 129.10 L905.99 129.10 L908.69 129.10 L911.40 129.10 L914.11 129.10 L916.84 129.10 L919.57 129.10 L922.31 129.10 L925.06 129.10 L927.82 129.10 L930.58 129.10 L933.35 129.10 L936.14 129.10 L938.92 129.10 L941.72 129.10 L944.53 129.10 L947.34 129.10 L950.17 129.10 L953.00 129.10 L955.83 129.10 L958.68 129.10 L961.54 129.10 L964.40 129.10 L967.27 129.10 L970.15 129.10 L973.04 129.10 L975.93 129.10 L978.84 129.10 L981.75 129.10 L984.67 129.10 L987.60 129.10 L990.54 129.10 L993.48 129.10 L996.43 129.10 L999.39 129.10 L1002.36 129.10 L1005.34 129.10 L1008.33 129.10 L1011.32 129.10 L1014.32 129.10 L1017.33 129.10 L1020.35 129.10 L1023.38 129.10 L1026.41 129.10 L1029.46 129.10 L1032.51 129.10 L1035.57 129.10 L1038.63 129.10 L1041.71 129.10 L1044.79 129.10 L1047.88 129.10 L1050.98 129.10 L1054.09 129.10 L1057.21 129.10 L1060.33 129.10 L1063.47 129.10 L1066.61 129.10 L1069.76 129.10 L1072.91 129.10 L1076.08 129.10 L1079.25 129.10 L1082.43 129.10 L1085.62 129.10 L1088.82 129.10 L1092.03 129.10 L1095.24 129.10 L1098.46 129.10 L1101.70 129.10 L1104.93 129.10 L1108.18 129.10 L1111.44 129.10 L1114.70 129.10" stroke="#6e5091"/>
<path d="M461.20 584.59 L461.20 584.58 L461.22 584.53 L461.24 584.44 L461.27 584.33 L461.30 584.18 L461.35 583.99 L461.40 583.78 L461.46 583.53 L461.53 583.24 L461.61 582.93 L461.69 582.58 L461.79 582.20 L461.89 581.78 L462.00 581.34 L462.12 580.86 L462.25 580.34 L462.38 579.80 L462.52 579.22 L462.67 578.61 L462.83 577.96 L463.00 577.29 L463.18 576.58 L463.36 575.84 L463.55 575.06 L463.75 574.26 L463.96 573.42 L464.18 572.56 L464.40 571.66 L464.63 570.72 L464.88 569.76 L465.13 568.77 L465.38 567.74 L465.65 566.69 L465.92 565.60 L466.20 564.48 L466.49 563.34 L466.79 562.16 L467.10 560.95 L467.41 559.71 L467.74 558.44 L468.07 557.15 L468.40 555.82 L468.75 554.46 L469.11 553.08 L469.47 551.66 L469.84 550.22 L470.22 548.75 L470.61 547.25 L471.01 545.73 L471.41 544.17 L471.82 542.59 L472.24 540.98 L472.67 539.34 L473.11 537.68 L473.56 535.99 L474.01 534.27 L474.47 532.53 L474.94 530.76 L475.42 528.97 L475.90 527.15 L476.40 525.31 L476.90 523.44 L477.41 521.55 L477.93 519.63 L478.46 517.69 L478.99 515.72 L479.53 513.74 L480.09 511.73 L480.65 509.69 L481.21 507.64 L481.79 505.56 L482.37 503.46 L482.97 501.34 L483.57 499.20 L484.17 497.04 L484.79 494.85 L485.42 492.65 L486.05 490.43 L486.69 488.19 L487.34 485.93 L488.00 483.65 L488.66 481.35 L489.34 479.04 L490.02 476.70 L490.71 474.35 L491.41 471.99 L492.11 469.60 L492.83 467.20 L493.55 464.79 L494.28 462.36 L495.02 459.91 L495.77 457.45 L496.53 454.98 L497.29 452.49 L498.06 449.99 L498.84 447.48 L499.63 444.95 L500.43 442.42 L501.23 439.87 L502.04 437.31 L502.86 434.73 L503.69 432.15 L504.53 429.56 L505.38 426.96 L506.23 424.35 L507.09 421.73 L507.96 419.10 L508.84 416.47 L509.73 413.82 L510.62 411.17 L511.52 408.52 L512.43 405.86 L513.35 403.19 L514.28 400.52 L515.22 397.84 L516.16 395.16 L517.11 392.47 L518.07 389.78 L519.04 387.09 L520.01 384.39 L521.00 381.70 L521.99 379.00 L522.99 376.30 L524.00 373.60 L525.02 370.90 L526.04 368.20 L527.08 365.50 L528.12 362.80 L529.17 360.11 L530.23 357.41 L531.29 354.72 L532.37 352.03 L533.45 349.35 L534.54 346.67 L535.64 343.99 L536.74 341.31 L537.86 338.65 L538.98 335.99 L540.11 333.33 L541.25 330.68 L542.40 328.04 L543.56 325.40 L544.72 322.77 L545.89 320.16 L547.07 317.54 L548.26 314.94 L549.46 312.35 L550.66 309.77 L551.88 307.20 L553.10 304.63 L554.33 302.08 L555.57 299.55 L556.81 297.02 L558.07 294.50 L559.33 292.00 L560.60 289.51 L561.88 287.04 L563.16 284.58 L564.46 282.13 L565.76 279.69 L567.07 277.28 L568.39 274.87 L569.72 272.49 L571.05 270.11 L572.40 267.76 L573.75 265.42 L575.11 263.10 L576.48 260.79 L577.85 258.51 L579.24 256.24 L580.63 253.99 L582.03 251.75 L583.44 249.54 L584.86 247.34 L586.28 245.17 L587.72 243.01 L589.16 240.88 L590.61 238.76 L592.07 236.66 L593.53 234.59 L595.01 232.53 L596.49 230.50 L597.98 228.48 L599.48 226.49 L600.99 224.52 L602.50 222.57 L604.03 220.64 L605.56 218.74 L607.10 216.85 L608.65 214.99 L610.20 213.15 L611.77 211.34 L613.34 209.55 L614.92 207.77 L616.51 206.03 L618.11 204.30 L619.71 202.60 L621.32 200.92 L622.95 199.27 L624.58 197.63 L626.21 196.03 L627.86 194.44 L629.51 192.88 L631.18 191.34 L632.85 189.82 L634.52 188.33 L636.21 186.86 L637.91 185.42 L639.61 184.00 L641.32 182.60 L643.04 181.22 L644.77 179.87 L646.50 178.54 L648.25 177.24 L650.00 175.95 L651.76 174.69 L653.53 173.46 L655.31 172.24 L657.09 171.05 L658.88 169.88 L660.68 168.74 L662.49 167.61 L664.31 166.51 L666.14 165.43 L667.97 164.37 L669.81 163.34 L671.66 162.32 L673.52 161.33 L675.39 160.36 L677.26 159.40 L679.15 158.47 L681.04 157.56 L682.94 156.68 L684.84 155.81 L686.76 154.96 L688.68 154.13 L690.62 153.32 L692.56 152.53 L694.50 151.76 L696.46 151.01 L698.42 150.27 L700.40 149.56 L702.38 148.86 L704.37 148.18 L706.36 147.52 L708.37 146.88 L710.38 146.25 L712.41 145.64 L714.44 145.05 L716.47 144.47 L718.52 143.91 L720.57 143.37 L722.64 142.84 L724.71 142.32 L726.79 141.82 L728.87 141.34 L730.97 140.87 L733.07 140.42 L735.18 139.97 L737.30 139.55 L739.43 139.13 L741.57 138.73 L743.71 138.34 L745.86 137.97 L748.03 137.60 L750.19 137.25 L752.37 136.91 L754.56 136.58 L756.75 136.27 L758.95 135.96 L761.16 135.67 L763.38 135.38 L765.60 135.10 L767.84 134.84 L770.08 134.58 L772.33 134.34 L774.59 134.10 L776.86 133.87 L779.13 133.65 L781.41 133.44 L783.71 133.24 L786.01 133.04 L788.31 132.86 L790.63 132.68 L792.95 132.50 L795.29 132.34 L797.63 132.18 L799.97 132.03 L802.33 131.88 L804.70 131.74 L807.07 131.61 L809.45 131.48 L811.84 131.36 L814.24 131.24 L816.64 131.13 L819.06 131.02 L821.48 130.92 L823.91 130.82 L826.35 130.73 L828.79 130.64 L831.25 130.56 L833.71 130.48 L836.18 130.40 L838.66 130.33 L841.15 130.26 L843.64 130.19 L846.15 130.13 L848.66 130.07 L851.18 130.01 L853.71 129.96 L856.24 129.91 L858.79 129.86 L861.34 129.81 L863.90 129.77 L866.47 129.73 L869.05 129.69 L871.63 129.65 L874.23 129.62 L876.83 129.59 L879.44 129.56 L882.06 129.53 L884.68 129.50 L887.32 129.47 L889.96 129.45 L892.61 129.43 L895.27 129.40 L897.94 129.38 L900.61 129.37 L903.30 129.35 L905.99 129.33 L908.69 129.31 L911.40 129.30 L914.11 129.29 L916.84 129.27 L919.57 129.26 L922.31 129.25 L925.06 129.24 L927.82 129.23 L930.58 129.22 L933.35 129.21 L936.14 129.20 L938.92 129.19 L941.72 129.19 L944.53 129.18 L947.34 129.17 L950.17 129.17 L953.00 129.16 L955.83 129.16 L958.68 129.15 L961.54 129.15 L964.40 129.15 L967.27 129.14 L970.15 129.14 L973.04 129.14 L975.93 129.13 L978.84 129.13 L981.75 129.13 L984.67 129.13 L987.60 129.12 L990.54 129.12 L993.48 129.12 L996.43 129.12 L999.39 129.12 L1002.36 129.11 L1005.34 129.11 L1008.33 129.11 L1011.32 129.11 L1014.32 129.11 L1017.33 129.11 L1020.35 129.11 L1023.38 129.11 L1026.41 129.11 L1029.46 129.11 L1032.51 129.11 L1035.57 129.11 L1038.63 129.10 L1041.71 129.10 L1044.79 129.10 L1047.88 129.10 L1050.98 129.10 L1054.09 129.10 L1057.21 129.10 L1060.33 129.10 L1063.47 129.10 L1066.61 129.10 L1069.76 129.10 L1072.91 129.10 L1076.08 129.10 L1079.25 129.10 L1082.43 129.10 L1085.62 129.10 L1088.82 129.10 L1092.03 129.10 L1095.24 129.10 L1098.46 129.10 L1101.70 129.10 L1104.93 129.10 L1108.18 129.10 L1111.44 129.10 L1114.70 129.10" stroke="#1e98b2"/>
</g>
<rect x="360" y="410" width="312" height="66.8" fill="#fff"/>
<text x="366.3" y="459.8" style="font-size:43.9px">increasing time</text>
<line x1="395.7" y1="336.4" x2="395.7" y2="407.3" stroke="#000" stroke-width="5.2" stroke-dasharray="5 4.35"/>
<line x1="395.7" y1="477.1" x2="395.7" y2="556" stroke="#000" stroke-width="5.2" stroke-dasharray="5 4.35"/>
<polygon points="383.9,553.7 407.4,553.7 395.7,577" fill="#000"/>
<text class="tk" text-anchor="middle" x="461.2" y="723">0</text>
<text class="tk" text-anchor="middle" x="591.9" y="723">0.2</text>
<text class="tk" text-anchor="middle" x="722.6" y="723">0.4</text>
<text class="tk" text-anchor="middle" x="853.3" y="723">0.6</text>
<text class="tk" text-anchor="middle" x="984.0" y="723">0.8</text>
<text class="tk" text-anchor="middle" x="1114.7" y="723">1</text>
<text class="tk" x="1140.7" y="685.0">0</text>
<text class="tk" x="1140.7" y="575.9">0.2</text>
<text class="tk" x="1140.7" y="466.8">0.4</text>
<text class="tk" x="1140.7" y="357.7">0.6</text>
<text class="tk" x="1140.7" y="248.6">0.8</text>
<text class="tk" x="1140.7" y="139.5">1</text>
<text class="tk" x="1140.7" y="30.4">1.2</text>
<text class="lbl" text-anchor="middle" x="786.3" y="766">Normalized distance</text>
<text class="lbl" text-anchor="middle" transform="translate(1232.9,341.3) rotate(-90)" x="0" y="0" style="word-spacing:3px">Normalized Concentration</text>
<text x="1029.3" y="84" style="font-size:48.5px">(a)</text>
<text transform="translate(476.28,115.73) scale(1.150,1)" x="0" y="0" style="font-family:'DejaVu Serif','Liberation Serif',serif;font-style:italic;font-size:47.0px;stroke-width:.3px">t</text>
<text transform="translate(514.82,116.01) scale(1.057,1)" x="0" y="0" style="font-family:'DejaVu Sans','Liberation Sans',sans-serif;font-size:47.1px;stroke-width:0">=</text>
<text transform="translate(568.18,115.88) scale(0.967,1)" x="0" y="0" style="font-family:'Liberation Sans',Arial,sans-serif;font-size:52.1px;stroke-width:0">0</text>
<text transform="translate(499.00,641.75) scale(1.150,1)" x="0" y="0" style="font-family:'DejaVu Serif','Liberation Serif',serif;font-style:italic;font-size:45.4px;stroke-width:.3px">t</text>
<text transform="translate(538.60,643.00) scale(1.037,1)" x="0" y="0" style="font-family:'DejaVu Sans','Liberation Sans',sans-serif;font-size:48.2px;stroke-width:0">=</text>
<text transform="translate(592.95,641.75) scale(1.150,1)" x="0" y="0" style="font-family:'DejaVu Serif','Liberation Serif',serif;font-style:italic;font-size:45.4px;stroke-width:.3px">t</text>
<text transform="translate(616.40,653.16) scale(0.950,1)" x="0" y="0" style="font-family:'DejaVu Serif','Liberation Serif',serif;font-size:34.3px;stroke-width:.3px">Sand</text>
<text transform="translate(706.51,544.44) scale(1.150,1)" x="0" y="0" style="font-family:'DejaVu Serif','Liberation Serif',serif;font-style:italic;font-size:35.5px;stroke-width:.3px">t</text>
<text transform="translate(724.47,551.72) scale(0.913,1)" x="0" y="0" style="font-family:'DejaVu Serif','Liberation Serif',serif;font-size:27.8px;stroke-width:.3px">Sand</text>
<text transform="translate(798.92,543.92) scale(1.141,1)" x="0" y="0" style="font-family:'DejaVu Sans','Liberation Sans',sans-serif;font-size:32.5px;stroke-width:0">=</text>
<text transform="translate(840.35,544.44) scale(0.970,1)" x="0" y="0" style="font-family:'Liberation Serif','DejaVu Serif',serif;font-style:italic;font-size:36.2px;stroke-width:.3px">π</text>
<text transform="translate(861.75,544.80) scale(1.060,1)" x="0" y="0" style="font-family:'DejaVu Serif','Liberation Serif',serif;font-style:italic;font-size:32.8px;stroke-width:.3px">D</text>
<text transform="translate(890.35,551.70) scale(1.111,1)" x="0" y="0" style="font-family:'DejaVu Serif','Liberation Serif',serif;font-style:italic;font-size:28.1px;stroke-width:.3px">l</text>
<text transform="translate(928.52,515.60) scale(1.261,1)" x="0" y="0" style="font-family:'DejaVu Serif','Liberation Serif',serif;font-style:italic;font-size:33.8px;stroke-width:.3px">n</text>
<text transform="translate(954.21,515.60) scale(1.160,1)" x="0" y="0" style="font-family:'DejaVu Serif','Liberation Serif',serif;font-style:italic;font-size:35.6px;stroke-width:.3px">F</text>
<text transform="translate(985.15,515.66) scale(0.912,1)" x="0" y="0" style="font-family:'DejaVu Serif','Liberation Serif',serif;font-style:italic;font-size:34.0px;stroke-width:.3px">C</text>
<text transform="translate(1009.23,502.16) scale(1.182,1)" x="0" y="0" style="font-family:'DejaVu Serif','Liberation Serif',serif;font-size:23.9px;stroke-width:.3px">0</text>
<text transform="translate(1007.15,525.00) scale(1.184,1)" x="0" y="0" style="font-family:'DejaVu Serif','Liberation Serif',serif;font-style:italic;font-size:26.4px;stroke-width:.3px">l</text>
<text transform="translate(959.05,568.90) scale(1.071,1)" x="0" y="0" style="font-family:'DejaVu Serif','Liberation Serif',serif;font-size:30.0px;stroke-width:.3px">2</text>
<text transform="translate(980.91,568.90) scale(1.200,1)" x="0" y="0" style="font-family:'DejaVu Serif','Liberation Serif',serif;font-style:italic;font-size:33.0px;stroke-width:.3px">i</text>
<text transform="translate(1049.35,490.10) scale(1.300,1)" x="0" y="0" style="font-family:'DejaVu Serif','Liberation Serif',serif;font-size:19.1px;stroke-width:.3px">2</text>
<line x1="929.3" y1="532.4" x2="1027.2" y2="532.4" stroke="#000" stroke-width="2.2"/>
<path d="M927.4 484.5 C914 505 910.4 520 910.4 532 C910.4 544 914 559 927.4 579.6 L925.4 580.6 C909 560 906.4 545 906.4 532 C906.4 519 909 504 925.4 483.5 Z" fill="#000" transform="translate(3,0)"/>
<path d="M1029.1 484.5 C1042.5 505 1046.1 520 1046.1 532 C1046.1 544 1042.5 559 1029.1 579.6 L1031.1 580.6 C1047.5 560 1050.1 545 1050.1 532 C1050.1 519 1047.5 504 1031.1 483.5 Z" fill="#000" transform="translate(-3,0)"/>
<rect x="1390.8" y="19.3" width="656.8" height="657.7" fill="none" stroke="#000" stroke-width="3.1"/>
<g stroke="#000" stroke-width="1.3">
<line x1="1386.2" y1="677.0" x2="1390.8" y2="677.0"/>
<line x1="1387.5" y1="652.3" x2="1390.8" y2="652.3"/>
<line x1="1387.5" y1="637.8" x2="1390.8" y2="637.8"/>
<line x1="1387.5" y1="627.5" x2="1390.8" y2="627.5"/>
<line x1="1387.5" y1="619.5" x2="1390.8" y2="619.5"/>
<line x1="1387.5" y1="613.0" x2="1390.8" y2="613.0"/>
<line x1="1387.5" y1="607.5" x2="1390.8" y2="607.5"/>
<line x1="1387.5" y1="602.8" x2="1390.8" y2="602.8"/>
<line x1="1387.5" y1="598.5" x2="1390.8" y2="598.5"/>
<line x1="1386.2" y1="594.8" x2="1390.8" y2="594.8"/>
<line x1="1387.5" y1="570.0" x2="1390.8" y2="570.0"/>
<line x1="1387.5" y1="555.6" x2="1390.8" y2="555.6"/>
<line x1="1387.5" y1="545.3" x2="1390.8" y2="545.3"/>
<line x1="1387.5" y1="537.3" x2="1390.8" y2="537.3"/>
<line x1="1387.5" y1="530.8" x2="1390.8" y2="530.8"/>
<line x1="1387.5" y1="525.3" x2="1390.8" y2="525.3"/>
<line x1="1387.5" y1="520.5" x2="1390.8" y2="520.5"/>
<line x1="1387.5" y1="516.3" x2="1390.8" y2="516.3"/>
<line x1="1386.2" y1="512.6" x2="1390.8" y2="512.6"/>
<line x1="1387.5" y1="487.8" x2="1390.8" y2="487.8"/>
<line x1="1387.5" y1="473.3" x2="1390.8" y2="473.3"/>
<line x1="1387.5" y1="463.1" x2="1390.8" y2="463.1"/>
<line x1="1387.5" y1="455.1" x2="1390.8" y2="455.1"/>
<line x1="1387.5" y1="448.6" x2="1390.8" y2="448.6"/>
<line x1="1387.5" y1="443.1" x2="1390.8" y2="443.1"/>
<line x1="1387.5" y1="438.3" x2="1390.8" y2="438.3"/>
<line x1="1387.5" y1="434.1" x2="1390.8" y2="434.1"/>
<line x1="1386.2" y1="430.4" x2="1390.8" y2="430.4"/>
<line x1="1387.5" y1="405.6" x2="1390.8" y2="405.6"/>
<line x1="1387.5" y1="391.1" x2="1390.8" y2="391.1"/>
<line x1="1387.5" y1="380.9" x2="1390.8" y2="380.9"/>
<line x1="1387.5" y1="372.9" x2="1390.8" y2="372.9"/>
<line x1="1387.5" y1="366.4" x2="1390.8" y2="366.4"/>
<line x1="1387.5" y1="360.9" x2="1390.8" y2="360.9"/>
<line x1="1387.5" y1="356.1" x2="1390.8" y2="356.1"/>
<line x1="1387.5" y1="351.9" x2="1390.8" y2="351.9"/>
<line x1="1386.2" y1="348.1" x2="1390.8" y2="348.1"/>
<line x1="1387.5" y1="323.4" x2="1390.8" y2="323.4"/>
<line x1="1387.5" y1="308.9" x2="1390.8" y2="308.9"/>
<line x1="1387.5" y1="298.7" x2="1390.8" y2="298.7"/>
<line x1="1387.5" y1="290.7" x2="1390.8" y2="290.7"/>
<line x1="1387.5" y1="284.2" x2="1390.8" y2="284.2"/>
<line x1="1387.5" y1="278.7" x2="1390.8" y2="278.7"/>
<line x1="1387.5" y1="273.9" x2="1390.8" y2="273.9"/>
<line x1="1387.5" y1="269.7" x2="1390.8" y2="269.7"/>
<line x1="1386.2" y1="265.9" x2="1390.8" y2="265.9"/>
<line x1="1387.5" y1="241.2" x2="1390.8" y2="241.2"/>
<line x1="1387.5" y1="226.7" x2="1390.8" y2="226.7"/>
<line x1="1387.5" y1="216.4" x2="1390.8" y2="216.4"/>
<line x1="1387.5" y1="208.5" x2="1390.8" y2="208.5"/>
<line x1="1387.5" y1="202.0" x2="1390.8" y2="202.0"/>
<line x1="1387.5" y1="196.5" x2="1390.8" y2="196.5"/>
<line x1="1387.5" y1="191.7" x2="1390.8" y2="191.7"/>
<line x1="1387.5" y1="187.5" x2="1390.8" y2="187.5"/>
<line x1="1386.2" y1="183.7" x2="1390.8" y2="183.7"/>
<line x1="1387.5" y1="159.0" x2="1390.8" y2="159.0"/>
<line x1="1387.5" y1="144.5" x2="1390.8" y2="144.5"/>
<line x1="1387.5" y1="134.2" x2="1390.8" y2="134.2"/>
<line x1="1387.5" y1="126.3" x2="1390.8" y2="126.3"/>
<line x1="1387.5" y1="119.8" x2="1390.8" y2="119.8"/>
<line x1="1387.5" y1="114.2" x2="1390.8" y2="114.2"/>
<line x1="1387.5" y1="109.5" x2="1390.8" y2="109.5"/>
<line x1="1387.5" y1="105.3" x2="1390.8" y2="105.3"/>
<line x1="1386.2" y1="101.5" x2="1390.8" y2="101.5"/>
<line x1="1387.5" y1="76.8" x2="1390.8" y2="76.8"/>
<line x1="1387.5" y1="62.3" x2="1390.8" y2="62.3"/>
<line x1="1387.5" y1="52.0" x2="1390.8" y2="52.0"/>
<line x1="1387.5" y1="44.0" x2="1390.8" y2="44.0"/>
<line x1="1387.5" y1="37.5" x2="1390.8" y2="37.5"/>
<line x1="1387.5" y1="32.0" x2="1390.8" y2="32.0"/>
<line x1="1387.5" y1="27.3" x2="1390.8" y2="27.3"/>
<line x1="1387.5" y1="23.1" x2="1390.8" y2="23.1"/>
<line x1="1386.2" y1="19.3" x2="1390.8" y2="19.3"/>
<line x1="1390.8" y1="677.0" x2="1390.8" y2="686.2"/>
<line x1="1456.7" y1="677.0" x2="1456.7" y2="683.8"/>
<line x1="1495.3" y1="677.0" x2="1495.3" y2="683.8"/>
<line x1="1522.6" y1="677.0" x2="1522.6" y2="683.8"/>
<line x1="1543.8" y1="677.0" x2="1543.8" y2="683.8"/>
<line x1="1561.2" y1="677.0" x2="1561.2" y2="683.8"/>
<line x1="1575.8" y1="677.0" x2="1575.8" y2="683.8"/>
<line x1="1588.5" y1="677.0" x2="1588.5" y2="683.8"/>
<line x1="1599.7" y1="677.0" x2="1599.7" y2="683.8"/>
<line x1="1609.7" y1="677.0" x2="1609.7" y2="686.2"/>
<line x1="1675.6" y1="677.0" x2="1675.6" y2="683.8"/>
<line x1="1714.2" y1="677.0" x2="1714.2" y2="683.8"/>
<line x1="1741.5" y1="677.0" x2="1741.5" y2="683.8"/>
<line x1="1762.8" y1="677.0" x2="1762.8" y2="683.8"/>
<line x1="1780.1" y1="677.0" x2="1780.1" y2="683.8"/>
<line x1="1794.8" y1="677.0" x2="1794.8" y2="683.8"/>
<line x1="1807.4" y1="677.0" x2="1807.4" y2="683.8"/>
<line x1="1818.6" y1="677.0" x2="1818.6" y2="683.8"/>
<line x1="1828.7" y1="677.0" x2="1828.7" y2="686.2"/>
<line x1="1894.6" y1="677.0" x2="1894.6" y2="683.8"/>
<line x1="1933.1" y1="677.0" x2="1933.1" y2="683.8"/>
<line x1="1960.5" y1="677.0" x2="1960.5" y2="683.8"/>
<line x1="1981.7" y1="677.0" x2="1981.7" y2="683.8"/>
<line x1="1999.0" y1="677.0" x2="1999.0" y2="683.8"/>
<line x1="2013.7" y1="677.0" x2="2013.7" y2="683.8"/>
<line x1="2026.4" y1="677.0" x2="2026.4" y2="683.8"/>
<line x1="2037.6" y1="677.0" x2="2037.6" y2="683.8"/>
<line x1="2047.6" y1="677.0" x2="2047.6" y2="686.2"/>
</g>
<line x1="1390.8" y1="31.1" x2="2047.6" y2="524.4" stroke="#4472c4" stroke-width="3"/>
<text transform="translate(1578.6,153.4) rotate(36.91)" x="0" y="0" style="font-size:40.3px;color:#4472c4;word-spacing:5px">Classical Sand’s Time</text>
<rect x="1600.9" y="352.1" width="16.6" height="16.6" fill="#a5a5a5"/>
<rect x="1601.5" y="376.6" width="15.6" height="15.6" fill="#fff" stroke="#ed7d31" stroke-width="2.4"/>
<rect x="1753.6" y="437.3" width="16.6" height="16.6" fill="#a5a5a5"/>
<circle cx="1761.7" cy="390.7" r="8.1" fill="#fff" stroke="#bf9000" stroke-width="2.5"/>
<path d="M1754.5 402.1 L1769.7 417.3 M1754.5 417.3 L1769.7 402.1" stroke="#8e1f76" stroke-width="2.5" fill="none"/>
<circle cx="1828.0" cy="413.5" r="8.1" fill="#fff" stroke="#bf9000" stroke-width="2.5"/>
<polygon points="1894.4,458.9 1902.2,466.7 1894.4,474.5 1886.6,466.7" fill="#fff" stroke="#70ad47" stroke-width="2.3"/>
<circle cx="1893.7" cy="491.6" r="8.1" fill="#fff" stroke="#bf9000" stroke-width="2.5"/>
<circle cx="1389.7" cy="253.4" r="8.1" fill="#1f6fb2"/>
<circle cx="1521.6" cy="277.2" r="8.1" fill="#1f6fb2"/>
<circle cx="1560.2" cy="302.1" r="8.1" fill="#1f6fb2"/>
<rect x="1412.9" y="456.5" width="13.2" height="13.2" fill="#fff" stroke="#ed7d31" stroke-width="2.5"/>
<text class="leg" x="1438.7" y="470.3" style="color:#c55a11">Ref. [19]</text>
<rect x="1412.6" y="493.0" width="13.8" height="13.8" fill="#a5a5a5"/>
<text class="leg" x="1438.7" y="507.2" style="color:#7f7f7f">Ref. [20]</text>
<circle cx="1419.8" cy="537.3" r="6.3" fill="#fff" stroke="#bf9000" stroke-width="2.5"/>
<text class="leg" x="1438.7" y="544.2" style="color:#7f6000">Ref. [21]</text>
<circle cx="1419.6" cy="574.3" r="6.8" fill="#1f6fb2"/>
<text class="leg" x="1438.7" y="581.1" style="color:#2f5597">Ref. [22]</text>
<polygon points="1419.8,604.8 1426.6,611.6 1419.8,618.4 1413.0,611.6" fill="#fff" stroke="#70ad47" stroke-width="2.3"/>
<text class="leg" x="1438.7" y="618.1" style="color:#548235">Ref. [23]</text>
<path d="M1413.6 642.8 L1426.0 655.2 M1413.6 655.2 L1426.0 642.8" stroke="#8e1f76" stroke-width="2.5" fill="none"/>
<text class="leg" x="1438.7" y="655.0" style="color:#7030a0">Ref. [24]</text>
<text class="note" x="1772" y="538.1">Data points represent</text>
<text class="note" x="1772" y="575.2">experimentally observed Li</text>
<text class="note" x="1772" y="612.3">dendrite onset times</text>
<text x="1326" y="684.7" style="font-size:31.2px">10<tspan dy="-9.3" style="font-size:20.5px">0</tspan></text>
<text x="1326" y="603.5" style="font-size:31.2px">10<tspan dy="-9.3" style="font-size:20.5px">1</tspan></text>
<text x="1326" y="522.3" style="font-size:31.2px">10<tspan dy="-9.3" style="font-size:20.5px">2</tspan></text>
<text x="1326" y="441.1" style="font-size:31.2px">10<tspan dy="-9.3" style="font-size:20.5px">3</tspan></text>
<text x="1326" y="359.9" style="font-size:31.2px">10<tspan dy="-9.3" style="font-size:20.5px">4</tspan></text>
<text x="1326" y="278.7" style="font-size:31.2px">10<tspan dy="-9.3" style="font-size:20.5px">5</tspan></text>
<text x="1326" y="197.5" style="font-size:31.2px">10<tspan dy="-9.3" style="font-size:20.5px">6</tspan></text>
<text x="1326" y="116.3" style="font-size:31.2px">10<tspan dy="-9.3" style="font-size:20.5px">7</tspan></text>
<text x="1326" y="35.1" style="font-size:31.2px">10<tspan dy="-9.3" style="font-size:20.5px">8</tspan></text>
<text class="tkb" text-anchor="middle" x="1391.3" y="722">0.01</text>
<text class="tkb" text-anchor="middle" x="1609.7" y="722">0.1</text>
<text class="tkb" text-anchor="middle" x="1828.7" y="722">1</text>
<text class="tkb" text-anchor="middle" x="2047.6" y="722">10</text>
<text class="lbl" x="1517.5" y="764">Current density (mA/cm<tspan dy="-10.5" style="font-size:25px">2</tspan><tspan dy="10.5">)</tspan></text>
<text class="lbl" text-anchor="middle" transform="translate(1296.5,343.5) rotate(-90)" x="0" y="0" style="font-size:37.5px">Time (sec)</text>
<text x="1962.6" y="82.6" style="font-size:48.5px">(b)</text>
</svg></body></html>
